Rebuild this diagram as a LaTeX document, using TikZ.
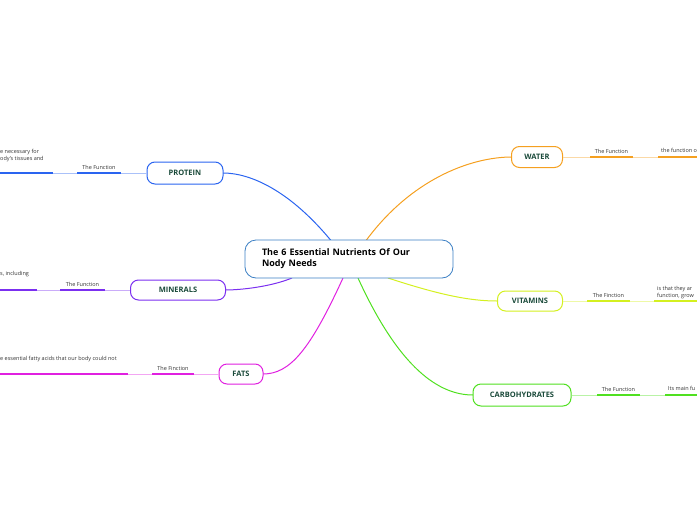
\documentclass[tikz,border=0pt]{standalone}
\usepackage{fontspec}
\setmainfont{Open Sans}
\begin{document}
\begin{tikzpicture}[x=1pt,y=-1pt,
  topic/.style={draw=#1,line width=1pt,rounded corners=8pt,fill=white,text=tc,font=\fontsize{7.5}{8}\selectfont\bfseries,inner sep=0pt},
  lbl/.style={font=\fontsize{5.5}{6}\selectfont,text=black!80,inner sep=0pt,anchor=south},
  txt/.style={font=\fontsize{5.5}{7}\selectfont,text=black!80,inner sep=0pt,anchor=south west,align=left},
  thick line/.style={draw=#1,line width=1.2pt},
  thin line/.style={draw=#1!40,line width=0.6pt},
  branch/.style={draw=#1,line width=1pt}]
\definecolor{tc}{HTML}{1A4A3A}
\definecolor{colB}{HTML}{2A64F0}\definecolor{colP}{HTML}{7B2FF0}\definecolor{colM}{HTML}{E020E0}
\definecolor{colO}{HTML}{F5A020}\definecolor{colY}{HTML}{D4F020}\definecolor{colG}{HTML}{50E020}
\definecolor{colC}{HTML}{3B7FC4}
\useasboundingbox (0,0) rectangle (697,520);
\coordinate (c1) at (333,243);\coordinate (c2) at (292,278);\coordinate (c3) at (343,278);
\coordinate (c4) at (365,242);\coordinate (c5) at (388,278);\coordinate (c6) at (358,278);
\coordinate (pE) at (223,173);\coordinate (mE) at (225,290);\coordinate (fE) at (263,374);
\coordinate (wW) at (512,157);\coordinate (vW) at (497,301);\coordinate (kW) at (473,395);
\draw[branch=colB] (c1) .. controls (290,190) and (250,173) .. (pE);
\draw[branch=colP] (c2) .. controls (270,287) and (240,290) .. (mE);
\draw[branch=colM] (c3) .. controls (310,350) and (290,374) .. (fE);
\draw[branch=colO] (c4) .. controls (410,180) and (470,157) .. (wW);
\draw[branch=colY] (c5) .. controls (440,295) and (470,301) .. (vW);
\draw[branch=colG] (c6) .. controls (400,370) and (440,395) .. (kW);
\node[draw=colC,fill=white,line width=0.8pt,rounded corners=11pt,minimum width=208pt,minimum height=38pt,text width=174pt,align=left,font=\fontsize{9}{11}\selectfont\bfseries,text=black] (c) at (349,259) {The 6 Essential Nutrients Of Our\\Nody Needs};
\node[topic=colB,minimum width=76pt,minimum height=22pt] (p) at (185,173) {PROTEIN};
\node[topic=colP,minimum width=95pt,minimum height=20pt] (m) at (178,290) {MINERALS};
\node[topic=colM,minimum width=44pt,minimum height=20pt] (f) at (241,374) {FATS};
\node[topic=colO,minimum width=51pt,minimum height=21pt] (w) at (537,157) {WATER};
\node[topic=colY,minimum width=65pt,minimum height=20pt] (v) at (530,301) {VITAMINS};
\node[topic=colG,minimum width=98pt,minimum height=22pt] (k) at (522,395) {CARBOHYDRATES};
\coordinate (pa) at (121,173);\coordinate (pb) at (77,173);\coordinate (pc) at (53,173);\coordinate (pd) at (0,173);
\draw[thin line=colB] (p.west) -- (pa); \draw[thick line=colB] (pa) -- (pb) node[lbl,midway,yshift=3pt] {The Function};
\draw[thin line=colB] (pb) -- (pc); \draw[thick line=colB] (pc) -- (pd);
\node[txt] (pt) at (0,162) {e necessary for\\ody's tissues and};
\coordinate (ma) at (105,290);\coordinate (mb) at (60,290);\coordinate (mc) at (37,290);\coordinate (md) at (0,290);
\draw[thin line=colP] (m.west) -- (ma); \draw[thick line=colP] (ma) -- (mb) node[lbl,midway,yshift=3pt] {The Function};
\draw[thin line=colP] (mb) -- (mc); \draw[thick line=colP] (mc) -- (md);
\node[txt] (mt) at (0,277) {s, including};
\coordinate (fa) at (194,374);\coordinate (fb) at (152,374);\coordinate (fc) at (128,374);\coordinate (fd) at (0,374);
\draw[thin line=colM] (f.west) -- (fa); \draw[thick line=colM] (fa) -- (fb) node[lbl,midway,yshift=3pt] {The Finction};
\draw[thin line=colM] (fb) -- (fc); \draw[thick line=colM] (fc) -- (fd);
\node[txt] (ft) at (0,362) {e essential fatty acids that our body could not};
\coordinate (wa) at (590,157);\coordinate (wb) at (633,157);\coordinate (wc) at (658,157);\coordinate (wd) at (697,157);
\draw[thin line=colO] (w.east) -- (wa); \draw[thick line=colO] (wa) -- (wb) node[lbl,midway,yshift=3pt] {The Function};
\draw[thin line=colO] (wb) -- (wc); \draw[thick line=colO] (wc) -- (wd);
\node[txt] (wt) at (661,153) {the function o};
\coordinate (va) at (587,301);\coordinate (vb) at (630,301);\coordinate (vc) at (654,301);\coordinate (vd) at (697,301);
\draw[thin line=colY] (v.east) -- (va); \draw[thick line=colY] (va) -- (vb) node[lbl,midway,yshift=3pt] {The Finction};
\draw[thin line=colY] (vb) -- (vc); \draw[thick line=colY] (vc) -- (vd);
\node[txt] (vt) at (657,299) {is that they ar\\function, grow};
\coordinate (ka) at (597,395);\coordinate (kb) at (640,395);\coordinate (kc) at (665,395);\coordinate (kd) at (697,395);
\draw[thin line=colG] (k.east) -- (ka); \draw[thick line=colG] (ka) -- (kb) node[lbl,midway,yshift=3pt] {The Function};
\draw[thin line=colG] (kb) -- (kc); \draw[thick line=colG] (kc) -- (kd);
\node[txt] (kt) at (668,391) {Its main fu};
\end{tikzpicture}
\end{document}
